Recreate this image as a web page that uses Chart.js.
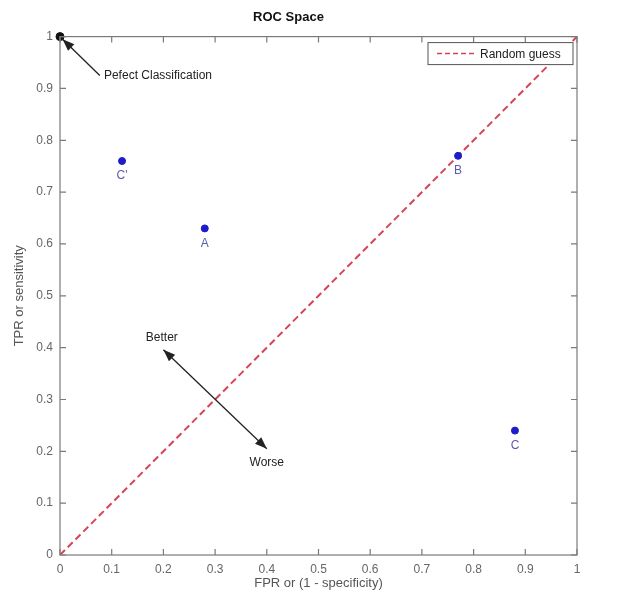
<!DOCTYPE html>
<html>
<head>
<meta charset="utf-8">
<script src="https://cdn.jsdelivr.net/npm/chart.js@4/dist/chart.umd.min.js"></script>
<style>
  body { margin: 0; background: #fff; }
  #wrap { width: 620px; height: 610px; }
</style>
</head>
<body>
<div id="wrap"><canvas id="roc"></canvas></div>
<script>
// classifier points in ROC space
const pointNames = ["C'", 'A', 'B', 'C'];
const fpr = [0.12, 0.28, 0.77, 0.88];
const tpr = [0.76, 0.63, 0.77, 0.24];

// random guess diagonal
const guessX = [0, 1];
const guessY = [0, 1];

// perfect classifier
const perfectX = [0];
const perfectY = [1];

const tickValues = [0, 0.1, 0.2, 0.3, 0.4, 0.5, 0.6, 0.7, 0.8, 0.9, 1];

// annotation notes, arrows given as [fromX, fromY, toX, toY]
const notes = [
    { text: 'Pefect Classification', tx: 0.085, ty: 0.925, align: 'left', arrow: [0.077, 0.925, 0.005, 0.995], both: false },
    { text: 'Better', tx: 0.197, ty: 0.42, align: 'center', arrow: [0.4, 0.205, 0.2, 0.396], both: true },
    { text: 'Worse', tx: 0.40, ty: 0.178, align: 'center', arrow: null }
];

const FONT = '"Liberation Sans", Arial, sans-serif';
Chart.defaults.font.family = FONT;

function drawArrowHead(ctx, x1, y1, x2, y2) {
    const a = Math.atan2(y2 - y1, x2 - x1);
    const len = 12, w = 4.5;
    ctx.beginPath();
    ctx.moveTo(x2, y2);
    ctx.lineTo(x2 - len * Math.cos(a) + w * Math.sin(a), y2 - len * Math.sin(a) - w * Math.cos(a));
    ctx.lineTo(x2 - len * Math.cos(a) - w * Math.sin(a), y2 - len * Math.sin(a) + w * Math.cos(a));
    ctx.closePath();
    ctx.fill();
}

const rocDecor = {
    id: 'rocDecor',
    afterDatasetsDraw(chart) {
        const ctx = chart.ctx;
        const area = chart.chartArea;
        const xs = chart.scales.x, ys = chart.scales.y;
        ctx.save();

        // box and inward ticks (all four sides)
        ctx.strokeStyle = '#7a7a7a';
        ctx.lineWidth = 1.2;
        ctx.strokeRect(area.left, area.top, area.right - area.left, area.bottom - area.top);
        ctx.beginPath();
        tickValues.forEach(v => {
            const px = xs.getPixelForValue(v);
            const py = ys.getPixelForValue(v);
            ctx.moveTo(px, area.bottom); ctx.lineTo(px, area.bottom - 6);
            ctx.moveTo(px, area.top); ctx.lineTo(px, area.top + 6);
            ctx.moveTo(area.left, py); ctx.lineTo(area.left + 6, py);
            ctx.moveTo(area.right, py); ctx.lineTo(area.right - 6, py);
        });
        ctx.stroke();

        // point labels
        ctx.font = '12px ' + FONT;
        ctx.fillStyle = '#5a5ca6';
        ctx.textAlign = 'center';
        ctx.textBaseline = 'top';
        pointNames.forEach((n, i) => {
            ctx.fillText(n, xs.getPixelForValue(fpr[i]), ys.getPixelForValue(tpr[i]) + 9);
        });

        // arrows and notes
        ctx.fillStyle = '#222';
        ctx.strokeStyle = '#222';
        ctx.lineWidth = 1.3;
        notes.forEach(n => {
            if (n.arrow) {
                const x1 = xs.getPixelForValue(n.arrow[0]), y1 = ys.getPixelForValue(n.arrow[1]);
                const x2 = xs.getPixelForValue(n.arrow[2]), y2 = ys.getPixelForValue(n.arrow[3]);
                ctx.beginPath();
                ctx.moveTo(x1, y1);
                ctx.lineTo(x2, y2);
                ctx.stroke();
                drawArrowHead(ctx, x1, y1, x2, y2);
                if (n.both) drawArrowHead(ctx, x2, y2, x1, y1);
            }
            ctx.font = '12px ' + FONT;
            ctx.textAlign = n.align;
            ctx.textBaseline = 'middle';
            ctx.fillText(n.text, xs.getPixelForValue(n.tx), ys.getPixelForValue(n.ty));
        });

        // legend box
        const bw = 145, bh = 22;
        const bx = area.right - 4 - bw, by = area.top + 6;
        ctx.fillStyle = '#fff';
        ctx.fillRect(bx, by, bw, bh);
        ctx.strokeStyle = '#555';
        ctx.lineWidth = 1;
        ctx.strokeRect(bx, by, bw, bh);
        ctx.strokeStyle = '#d9435a';
        ctx.lineWidth = 1.5;
        ctx.setLineDash([5, 3]);
        ctx.beginPath();
        ctx.moveTo(bx + 9, by + bh / 2);
        ctx.lineTo(bx + 46, by + bh / 2);
        ctx.stroke();
        ctx.setLineDash([]);
        ctx.fillStyle = '#222';
        ctx.textAlign = 'left';
        ctx.textBaseline = 'middle';
        ctx.font = '12px ' + FONT;
        ctx.fillText('Random guess', bx + 52, by + bh / 2 + 1);

        ctx.restore();
    }
};

new Chart(document.getElementById('roc'), {
    type: 'scatter',
    data: {
        datasets: [
            {
                label: 'Random guess',
                data: guessX.map((x, i) => ({ x: x, y: guessY[i] })),
                showLine: true,
                borderColor: '#d9435a',
                borderWidth: 2,
                borderDash: [7, 4],
                pointRadius: 0,
                order: 3
            },
            {
                label: 'Classifiers',
                data: fpr.map((x, i) => ({ x: x, y: tpr[i] })),
                backgroundColor: '#1c1cc8',
                borderColor: '#1c1cc8',
                pointRadius: 3.5,
                order: 1
            },
            {
                label: 'Perfect',
                data: perfectX.map((x, i) => ({ x: x, y: perfectY[i] })),
                backgroundColor: '#111',
                borderColor: '#111',
                pointRadius: 4,
                clip: false,
                order: 0
            }
        ]
    },
    plugins: [rocDecor],
    options: {
        responsive: true,
        maintainAspectRatio: false,
        animation: false,
        layout: { padding: { left: 0, right: 43, top: 0, bottom: 15 } },
        plugins: {
            legend: { display: false },
            tooltip: { enabled: false },
            title: {
                display: true,
                text: 'ROC Space',
                color: '#111',
                font: { size: 13, weight: 'bold' },
                padding: { top: 10, bottom: 11 }
            }
        },
        scales: {
            x: {
                type: 'linear',
                min: 0,
                max: 1,
                afterFit: (s) => { s.height = 40; },
                afterBuildTicks: (s) => { s.ticks = tickValues.map(v => ({ value: v })); },
                grid: { display: false, drawTicks: false },
                border: { display: false },
                ticks: { color: '#666', font: { size: 12 }, padding: 7, maxRotation: 0,
                    callback: (v) => String(Math.round(v * 10) / 10) },
                title: { display: true, text: 'FPR or (1 - specificity)', color: '#555',
                    font: { size: 13 }, padding: { top: 0, bottom: 4 } }
            },
            y: {
                type: 'linear',
                min: 0,
                max: 1,
                afterFit: (s) => { s.width = 60; },
                afterBuildTicks: (s) => { s.ticks = tickValues.map(v => ({ value: v })); },
                grid: { display: false, drawTicks: false },
                border: { display: false },
                ticks: { color: '#666', font: { size: 12 }, padding: 7,
                    callback: (v) => String(Math.round(v * 10) / 10) },
                title: { display: true, text: 'TPR or sensitivity', color: '#555',
                    font: { size: 13 }, padding: { top: 12, bottom: 0 } }
            }
        }
    }
});
</script>
</body>
</html>
